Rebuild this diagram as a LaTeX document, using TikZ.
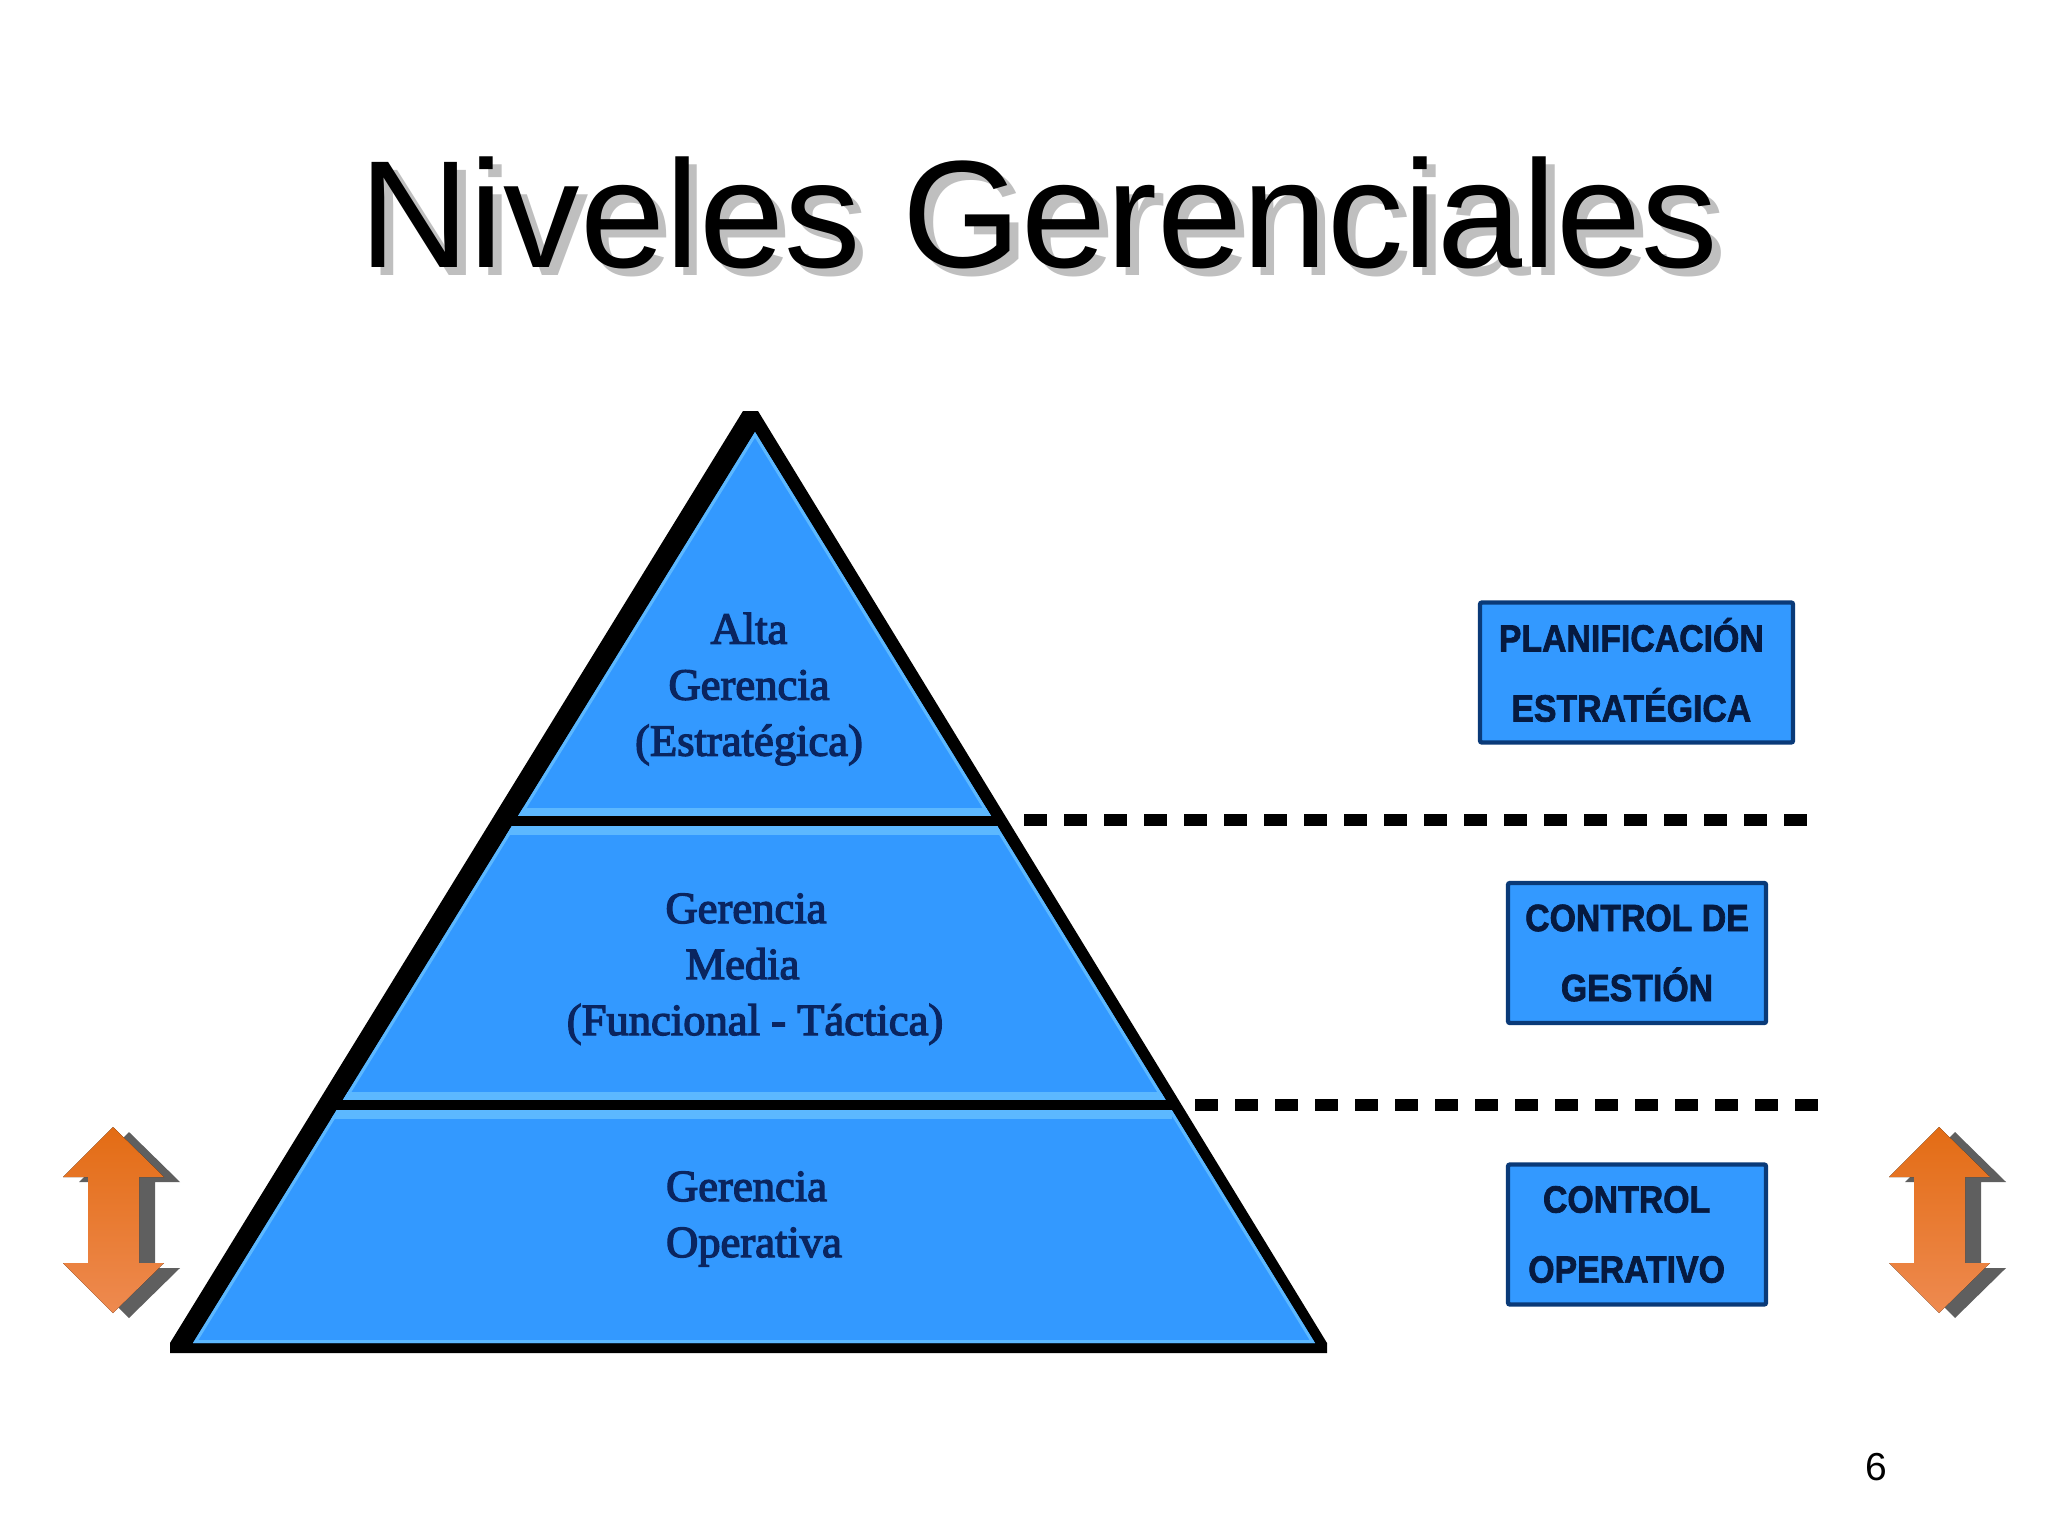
\documentclass[tikz,border=0pt]{standalone}
\usepackage{fontspec}
\setmainfont{Liberation Sans}
\newfontfamily\levelfont[FakeBold=3]{Liberation Serif}
\newfontfamily\boxfont[FakeStretch=0.89,FakeBold=1.8]{Liberation Sans Bold}
\definecolor{pyramidblue}{HTML}{3399FF}
\definecolor{pyramidlight}{HTML}{5CB8FF}
\definecolor{boxborder}{HTML}{0A3A78}
\definecolor{levelink}{HTML}{0A2560}
\definecolor{boxink}{HTML}{061A40}
\definecolor{shadowgrey}{HTML}{5F5F5F}
\definecolor{arrowtop}{HTML}{E36C14}
\definecolor{arrowbottom}{HTML}{EE8A50}
\tikzset{
  titletext/.style = {anchor=base, font=\fontsize{76.4}{90}\selectfont},
  leveltext/.style = {align=center, text=levelink, font=\levelfont\fontsize{22.3}{28}\selectfont},
  boxtext/.style = {align=center, text=boxink, font=\boxfont\fontsize{19}{35}\selectfont},
  levelbox/.style = {draw=boxborder, line width=2.2pt, fill=pyramidblue, rounded corners=1pt, inner sep=0pt},
  levelline/.style = {draw=black, line width=5.2pt},
  levelglow/.style = {draw=pyramidlight, line width=13.5pt},
  dashline/.style = {draw=black, line width=5.8pt, dash pattern=on 11.5pt off 8.5pt}
}
\begin{document}
\begin{tikzpicture}[x=0.5pt, y=-0.5pt]
  \useasboundingbox (0,0) rectangle (2048,1536);
  % title with its shadow
  \node[titletext, text=black!25] (titleshadow) at (1047.5,275.5) {Niveles Gerenciales};
  \node[titletext, text=black] (title) at (1039,267) {Niveles Gerenciales};
  % pyramid
  \coordinate (innertop) at (755,432);
  \coordinate (innerleft) at (193,1343);
  \coordinate (innerright) at (1315,1343);
  \coordinate (highleft) at (505,821);
  \coordinate (highright) at (1000,821);
  \coordinate (lowleft) at (330,1105);
  \coordinate (lowright) at (1172,1105);
  \fill[black] (743,411) -- (758,411) -- (1327,1343) -- (1327,1353) -- (170,1353) -- (170,1343) -- cycle;
  \fill[pyramidblue] (innertop) -- (innerleft) -- (innerright) -- cycle;
  \begin{scope}
    \clip (innertop) -- (innerleft) -- (innerright) -- cycle;
    \draw[draw=pyramidlight, line width=3pt] (innertop) -- (innerleft) -- (innerright) -- cycle;
    \draw[levelglow] (highleft) -- (highright);
    \draw[levelglow] (lowleft) -- (lowright);
  \end{scope}
  \draw[levelline] (highleft) -- (highright);
  \draw[levelline] (lowleft) -- (lowright);
  \node[leveltext] (alta) at (749,689) {Alta\\Gerencia\hspace*{3.3pt}\\(Estratégica)};
  \node[leveltext] (media) at (755,969) {Gerencia\hspace*{9pt}\\\makebox[1.22\width][l]{Media}\\(Funcional - Táctica)};
  \node[leveltext, align=left] (operativa) at (754,1219) {Gerencia\\Operativa};
  % boxes on the right
  \node[levelbox, minimum width=156.5pt, minimum height=70pt] (planning) at (1636.5,672.5) {};
  \node[levelbox, minimum width=129pt, minimum height=70pt] (gestion) at (1637,953) {};
  \node[levelbox, minimum width=129pt, minimum height=70pt] (control) at (1637,1234.5) {};
  \node[boxtext, xshift=-2.6pt, yshift=1.3pt] (planningtext) at (planning) {PLANIFICACIÓN\\ESTRATÉGICA};
  \node[boxtext] (gestiontext) at (gestion) {CONTROL DE\\GESTIÓN};
  \node[boxtext, xshift=-5.2pt] (controltext) at (control) {CONTROL\\OPERATIVO};
  % dashed separators
  \coordinate (highstart) at (1024,820);
  \coordinate (highend) at (1812,820);
  \coordinate (lowstart) at (1195,1105);
  \coordinate (lowend) at (1822,1105);
  \draw[dashline] (highstart) -- (highend);
  \draw[dashline] (lowstart) -- (lowend);
  % double arrows
  \foreach \arrowx in {0,1826} {
    \fill[shadowgrey, shift={(\arrowx+16,5)}] (113,1127) -- (164,1177) -- (139,1177) -- (139,1263) -- (164,1263) -- (113,1313) -- (63,1263) -- (88,1263) -- (88,1177) -- (63,1177) -- cycle;
    \fill[top color=arrowtop, bottom color=arrowbottom, shift={(\arrowx,0)}] (113,1127) -- (164,1177) -- (139,1177) -- (139,1263) -- (164,1263) -- (113,1313) -- (63,1263) -- (88,1263) -- (88,1177) -- (63,1177) -- cycle;
  }
  \node[font=\fontsize{19.5}{24}\selectfont] (pagenum) at (1876,1467) {6};
\end{tikzpicture}
\end{document}
